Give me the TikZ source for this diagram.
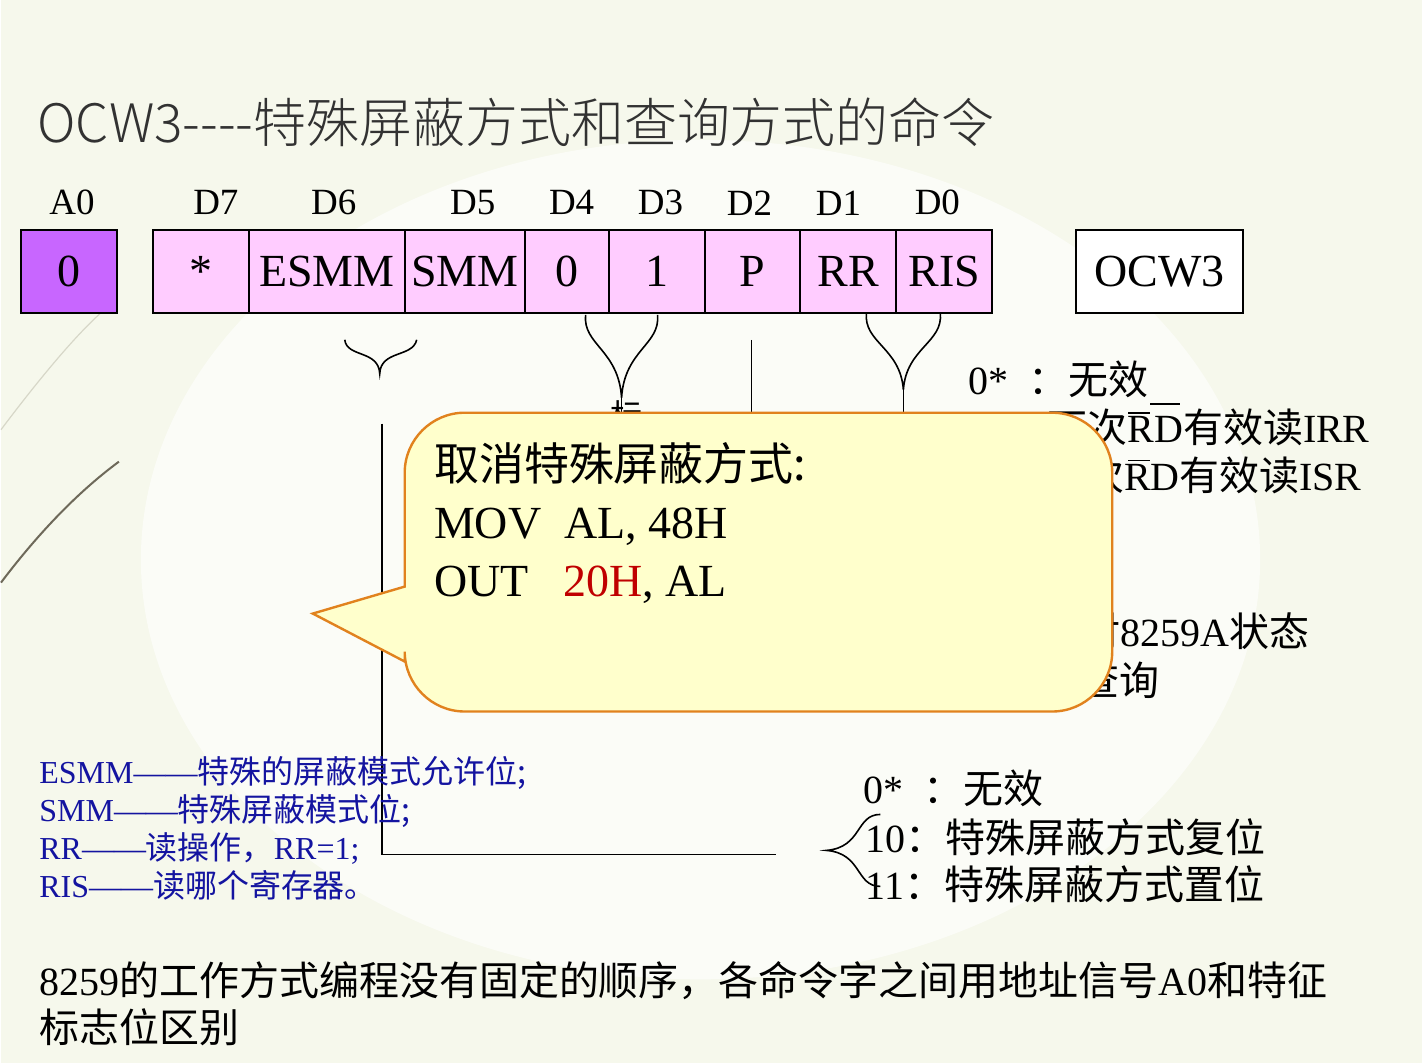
\documentclass[tikz,border=0pt]{standalone}
\usepackage{fontspec}
\setmainfont{Liberation Serif}
\newfontfamily\cj{Noto Sans CJK SC}
\newfontfamily\cjl{Noto Sans CJK SC Light}
\definecolor{bgc}{RGB}{246,248,236}
\definecolor{dl1}{RGB}{215,215,200}
\definecolor{dl2}{RGB}{110,105,90}
\definecolor{ttl}{RGB}{50,50,50}
\definecolor{purp}{RGB}{200,102,255}
\definecolor{pink}{RGB}{255,204,255}
\definecolor{blu}{RGB}{20,20,160}
\definecolor{orng}{RGB}{225,130,30}
\definecolor{ylw}{RGB}{255,255,204}
\definecolor{dred}{RGB}{192,0,0}
\begin{document}
\begin{tikzpicture}[x=0.5pt,y=-0.5pt,
 bx/.style={draw,line width=1pt,minimum height=41.5pt,inner sep=0pt,font=\fontsize{23}{23}\selectfont},
 lab/.style={font=\fontsize{18.5}{18.5}\selectfont},
 rt/.style={anchor=base west,inner sep=0pt,font=\fontsize{20}{20}\selectfont},
 bl/.style={anchor=base west,inner sep=0pt,text=blu,font=\fontsize{16}{16}\selectfont},
 ln/.style={line width=0.8pt}]
\fill[bgc] (0,0) rectangle (1422,1064);
\fill[white,opacity=0.6] (700,560) ellipse (560 and 420);
\draw[dl1,line width=0.6pt] (0,430) .. controls (30,390) and (70,340) .. (100,313);
\draw[dl2,line width=1pt] (0,583) .. controls (40,530) and (80,490) .. (118,462);
\node[anchor=base west,inner sep=0pt,text=ttl,font=\cjl\fontsize{26.5}{26.5}\selectfont] (title) at (36,143) {OCW3----特殊屏蔽方式和查询方式的命令};
\foreach \n/\x in {A0/71,D7/215,D6/333,D5/472,D4/571,D3/660,D2/749,D1/838,D0/937}
  \node[lab] (l\n) at (\x,203) {\n};
\node[bx,fill=purp,minimum width=48pt] (a0) at (68,272) {0};
\foreach \t/\a/\b [count=\i] in {*/152/248,ESMM/248/404,SMM/404/524,0/524/608,1/608/704,P/704/800,RR/800/896,RIS/896/992}
  \node[bx,fill=pink,minimum width={(\b-\a)*0.5pt}] (b\i) at ({(\a+\b)/2},272) {\t};
\node[bx,fill=white,minimum width=83.5pt] (ocw) at (1159.5,272) {OCW3};
% braces
\draw[ln] (344,340) .. controls (346,358) and (378,350) .. (379,374) .. controls (380,350) and (412,358) .. (416,340);
\draw[ln] (585,315) .. controls (582,345) and (618,350) .. (621,398) .. controls (624,350) and (660,345) .. (657,315);
\draw[ln] (866,313) .. controls (863,343) and (900,348) .. (903,390) .. controls (906,348) and (943,343) .. (940,313);
\draw[ln] (621,395) -- (621,412);
\draw[ln] (751,340) -- (751,412);
\draw[ln] (903,390) -- (903,412);
\node[anchor=base west,inner sep=0pt,font=\cj\fontsize{16}{16}\selectfont] (hid) at (610,428) {标};
% right texts
\node[rt] (r1) at (968,395) {0*\ \ {\cj ：无效}};
\draw[ln] (1150,404) -- (1180,404);
\node[rt,anchor=base east] (r2) at (1370,443) {{\cj 下次}RD{\cj 有效读}IRR};
\node[rt,anchor=base east] (r3) at (1362,491) {{\cj 下次}RD{\cj 有效读}ISR};
\draw[ln] (1128,413) -- (1150,413);
\draw[ln] (1128,461) -- (1150,461);
\node[rt,anchor=base east] (r4) at (1310,647) {{\cj 对}8259A{\cj 状态}};
\node[rt,anchor=base east] (r5) at (1160,696) {{\cj 不查询}};
% vertical line and bottom brace
\draw[ln] (381,424) -- (381,855) -- (776,855);
\draw[ln] (880,815) .. controls (855,815) and (862,848) .. (826,851) .. controls (862,854) and (855,887) .. (880,887);
\node[rt] (q1) at (863,804) {0*\ \ {\cj ：无效}};
\node[rt] (q2) at (865,853) {10{\cj ：特殊屏蔽方式复位}};
\node[rt] (q3) at (865,900) {11{\cj ：特殊屏蔽方式置位}};
% blue
\node[bl] (e1) at (38,784) {ESMM——{\cj 特殊的屏蔽模式允许位;}};
\node[bl] (e2) at (38,822) {SMM——{\cj 特殊屏蔽模式位;}};
\node[bl] (e3) at (38,860) {RR——{\cj 读操作，}RR=1;};
\node[bl] (e4) at (38,898) {RIS——{\cj 读哪个寄存器。}};
% callout
\draw[orng,line width=1.2pt,fill=ylw]
 (312,614) -- (404,587) -- (404,473) .. controls (404,440) and (431,413) .. (464,413)
 -- (1052,413) .. controls (1085,413) and (1112,440) .. (1112,473)
 -- (1112,652) .. controls (1112,685) and (1085,712) .. (1052,712)
 -- (464,712) .. controls (431,712) and (404,685) .. (404,652) -- (404,662) -- cycle;
\node[anchor=base west,inner sep=0pt,font=\cj\fontsize{22.5}{22.5}\selectfont] (c1) at (433,481) {取消特殊屏蔽方式:};
\node[anchor=base west,inner sep=0pt,font=\fontsize{23}{23}\selectfont] (c2) at (433,539) {MOV\ \ AL, 48H};
\node[anchor=base west,inner sep=0pt,font=\fontsize{23}{23}\selectfont] (c3) at (433,597) {OUT\ \ \ {\color{dred}20H}, AL};
% bottom
\node[anchor=base west,inner sep=0pt,font=\fontsize{20}{20}\selectfont] (f1) at (38,996) {8259{\cj 的工作方式编程没有固定的顺序，各命令字之间用地址信号}A0{\cj 和特征}};
\node[anchor=base west,inner sep=0pt,font=\cj\fontsize{20}{20}\selectfont] (f2) at (38,1043) {标志位区别};
\end{tikzpicture}
\end{document}
